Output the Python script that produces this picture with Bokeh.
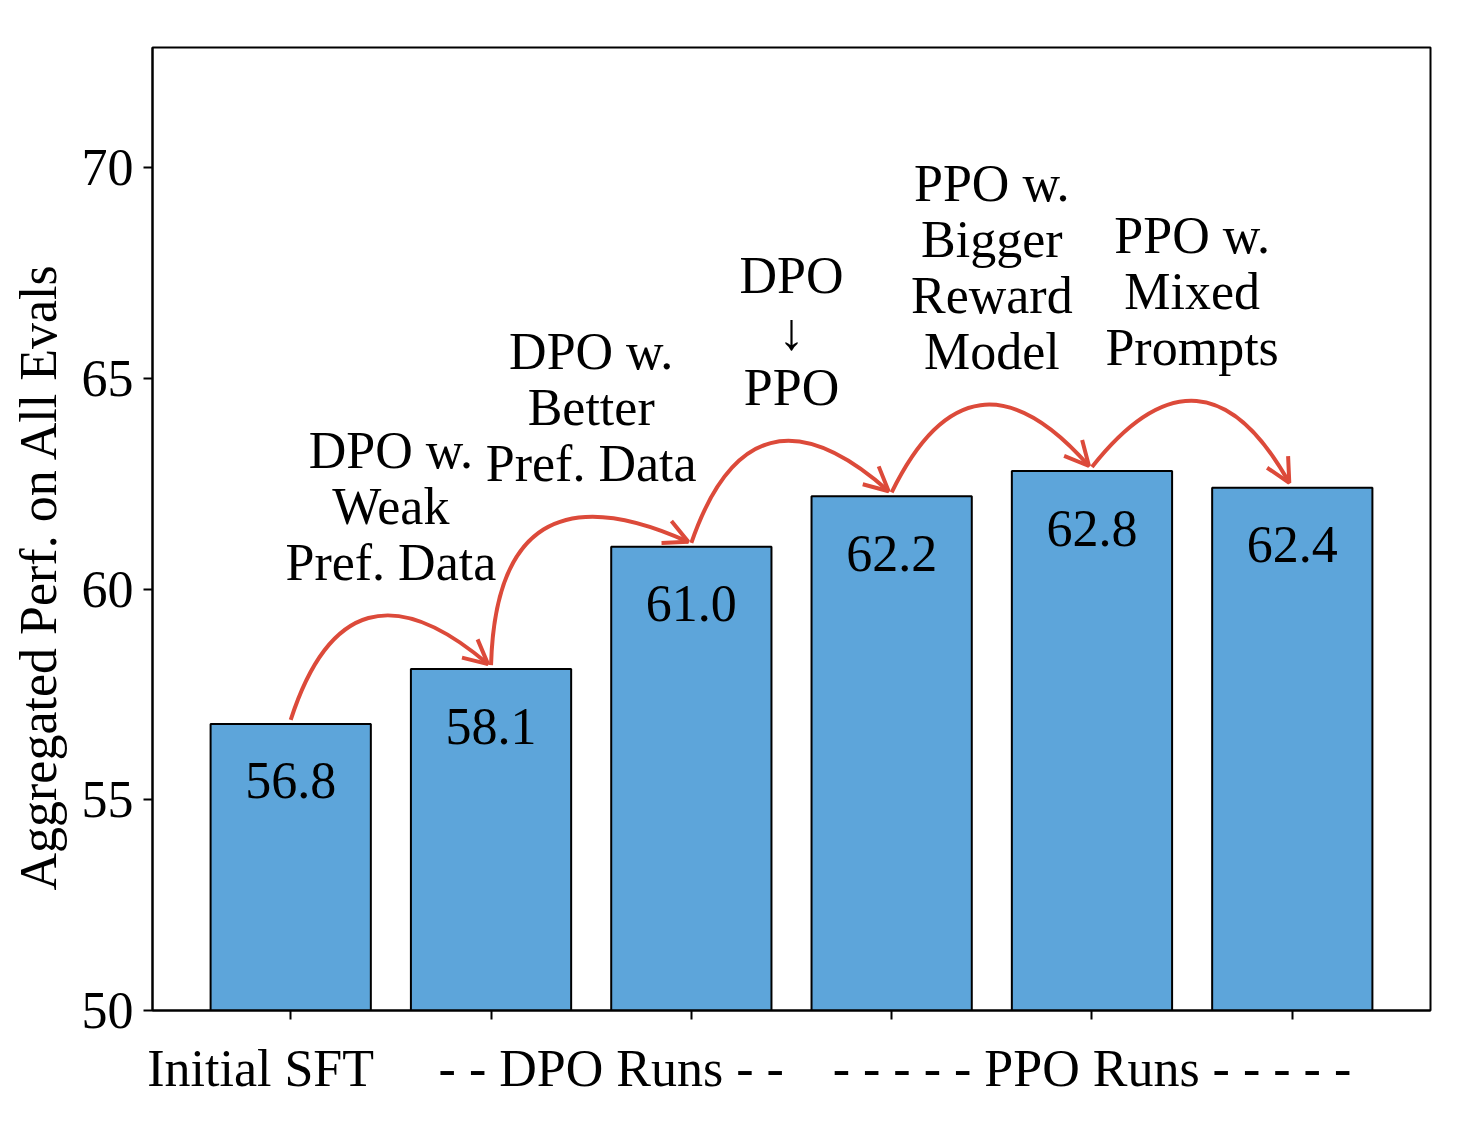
import numpy as np
from bokeh.plotting import figure
from bokeh.models import Range1d, FixedTicker, Arrow, OpenHead, ColumnDataSource, LinearAxis, Title
from bokeh.core.properties import value
from bokeh.embed import file_html
from bokeh.resources import INLINE

# ---- data ----
stages = ["Initial SFT", "DPO w. Weak Pref. Data", "DPO w. Better Pref. Data",
          "DPO \u2192 PPO", "PPO w. Bigger Reward Model", "PPO w. Mixed Prompts"]
scores = [56.8, 58.1, 61.0, 62.2, 62.8, 62.4]
score_labels = ["56.8", "58.1", "61.0", "62.2", "62.8", "62.4"]
step_labels = [["DPO w.", "Weak", "Pref. Data"],
               ["DPO w.", "Better", "Pref. Data"],
               ["DPO", "\u2193", "PPO"],
               ["PPO w.", "Bigger", "Reward", "Model"],
               ["PPO w.", "Mixed", "Prompts"]]
group_labels = ["Initial SFT", "- - DPO Runs - -", "- - - - - PPO Runs - - - - -"]
group_centers = [-0.15, 1.6, 4.0]
y_ticks = [50, 55, 60, 65, 70]
y_title = "Aggregated Perf. on All Evals"

FONT = "Liberation Serif"
FS = "52px"
BAR_COLOR = "#5da5da"
ARROW_COLOR = "#dc4a3a"

W, H = 1458, 1122
ML, MR, MT, MB = 152, 28, 47, 112
frame_w = W - ML - MR
frame_h = H - MT - MB

n = len(scores)
idx = np.arange(n)
x0, x1 = -0.4 - 0.05 * (n - 1 + 0.8), (n - 1) + 0.4 + 0.05 * (n - 1 + 0.8)
y0, y1 = 50.0, max(scores) * 1.16
sx = frame_w / (x1 - x0)   # px per x unit
sy = frame_h / (y1 - y0)   # px per y unit

p = figure(width=W, height=H, output_backend="svg", toolbar_location=None,
           x_range=Range1d(x0, x1), y_range=Range1d(y0, y1),
           min_border_left=ML, min_border_right=MR, min_border_top=MT, min_border_bottom=MB)
p.grid.visible = False
p.outline_line_color = "black"
p.outline_line_width = 2
p.background_fill_color = "white"
p.border_fill_color = "white"

# axes
p.xaxis.ticker = FixedTicker(ticks=list(idx))
p.xaxis.major_label_overrides = {int(i): "" for i in idx}
p.xaxis.major_label_text_font_size = "1px"
p.xaxis.major_label_standoff = 0
p.yaxis.ticker = FixedTicker(ticks=y_ticks)
for ax in (p.xaxis[0], p.yaxis[0]):
    ax.axis_line_color = "black"
    ax.axis_line_width = 2
    ax.major_tick_line_width = 2
    ax.major_tick_out = 9
    ax.major_tick_in = 0
    ax.minor_tick_out = 0
    ax.minor_tick_in = 0
p.yaxis.major_label_text_font = FONT
p.yaxis.major_label_text_font_size = FS
p.yaxis.major_label_text_color = "black"
p.yaxis.major_label_standoff = 10

# group labels below the x axis
gaxis = LinearAxis(ticker=FixedTicker(ticks=group_centers),
                   major_label_overrides={c: l for c, l in zip(group_centers, group_labels)},
                   axis_line_color=None, major_tick_line_color=None, minor_tick_line_color=None,
                   major_tick_out=0, major_tick_in=0, minor_tick_out=0, minor_tick_in=0,
                   major_label_standoff=20, major_label_text_font=FONT,
                   major_label_text_font_size=FS, major_label_text_color="black")
p.add_layout(gaxis, "below")

# y title
p.add_layout(Title(text=y_title, align="left", offset=120, vertical_align="top",
                   standoff=19,
                   text_font=FONT, text_font_size=FS, text_font_style="normal",
                   text_color="black"), "left")

# bars
src = ColumnDataSource(dict(x=idx, top=scores, lab=score_labels))
p.vbar(x="x", top="top", bottom=0, width=0.8, source=src,
       fill_color=BAR_COLOR, line_color="black", line_width=2)
p.text(x="x", y="top", text="lab", source=src, y_offset=57,
       text_align="center", text_baseline="middle",
       text_font=value(FONT), text_font_size=FS, text_color="black")

# curved arrows (arc3-like, computed in screen space)
rad = -0.75
tx, ty, ttext, toff = [], [], [], []
for i in range(n - 1):
    P0 = np.array([idx[i] * sx, scores[i] * sy + 4])
    P2 = np.array([idx[i + 1] * sx - 3, scores[i + 1] * sy + 5])
    mid = (P0 + P2) / 2
    d = P2 - P0
    C = np.array([mid[0] + rad * d[1], mid[1] - rad * d[0]])
    p.quadratic(x0=[P0[0] / sx], y0=[P0[1] / sy], x1=[P2[0] / sx], y1=[P2[1] / sy],
                cx=[C[0] / sx], cy=[C[1] / sy], line_color=ARROW_COLOR, line_width=4)
    t = (P2 - C) / np.linalg.norm(P2 - C)
    S = P2 - t * 2
    p.add_layout(Arrow(end=OpenHead(size=24, line_color=ARROW_COLOR, line_width=4),
                       x_start=S[0] / sx, y_start=S[1] / sy,
                       x_end=P2[0] / sx, y_end=P2[1] / sy,
                       line_color=ARROW_COLOR, line_width=4))
    ts = np.linspace(0, 1, 201)
    by = (1 - ts) ** 2 * P0[1] + 2 * ts * (1 - ts) * C[1] + ts ** 2 * P2[1]
    peak = by.max() / sy
    lines = step_labels[i]
    nl = len(lines)
    for j, ln in enumerate(lines):
        tx.append((idx[i] + idx[i + 1]) / 2)
        ty.append(peak)
        ttext.append(ln)
        toff.append(-(53 + (nl - 1 - j) * 56))

p.text(x=tx, y=ty, text=ttext, y_offset=toff, text_align="center", text_baseline="middle",
       text_font=value(FONT), text_font_size=FS, text_color="black")

open("out.html", "w").write(file_html(p, INLINE))
